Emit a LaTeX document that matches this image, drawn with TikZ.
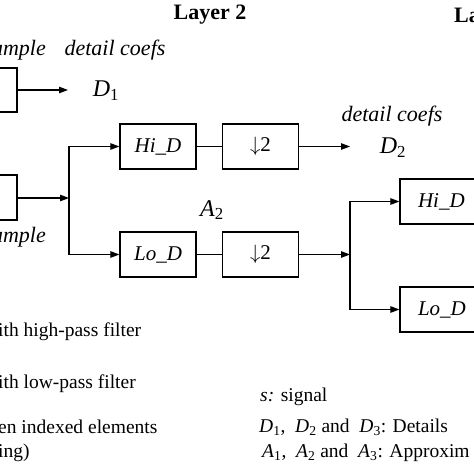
\documentclass[tikz,border=0pt]{standalone}
\usepackage{fontspec}
\setmainfont{Liberation Serif}
\usetikzlibrary{arrows.meta}

\newcommand{\detD}[1]{\textit{D}\textsubscript{#1}}
\newcommand{\apxA}[1]{\textit{A}\textsubscript{#1}}

\begin{document}
\begin{tikzpicture}[
    x=1pt, y=-1pt,
    >={Triangle[length=9pt,width=6.5pt]},
    arr/.style={->, line width=1.1pt},
    ln/.style={line width=1.1pt},
    fbox/.style={draw, line width=1.2pt, minimum width=76pt, minimum height=45pt,
        inner sep=0pt, font=\fontsize{21}{24}\selectfont\itshape},
    coef/.style={font=\fontsize{22}{26}\selectfont\itshape, inner sep=0pt},
    sig/.style={font=\fontsize{24}{28}\selectfont, inner sep=0pt},
    legend/.style={font=\fontsize{19.5}{23}\selectfont, inner sep=0pt, anchor=west},
    layer/.style={font=\fontsize{22}{26}\selectfont\bfseries, inner sep=0pt}
]
\clip (0,0) rectangle (474,474);

%------------------------------------------------
% Titles
%------------------------------------------------
\node[layer] (lay2) at (210,15) {Layer 2};
\node[layer, anchor=west] (lay3) at (454,15) {La};

%------------------------------------------------
% Layer 1 (cut at the left border)
%------------------------------------------------
\node[fbox, minimum width=74pt, minimum height=44pt] (ds1) at (-20,90) {};
\node[fbox, minimum width=74pt] (ds2) at (-20,197.5) {};
\node[coef, anchor=east] (amp1) at (46,50) {ample};
\node[coef, anchor=east] (amp2) at (46,237) {ample};

\node[coef] (coef1) at (115,50) {detail coefs};
\node[sig] (d1) at (106,91) {\detD{1}};
\coordinate (d1end) at (68,90);
\draw[arr] (ds1.east |- d1end) -- (d1end);

\coordinate (j1) at (69,198);
\draw[arr] (ds2.east |- j1) -- (j1);

%------------------------------------------------
% Layer 2
%------------------------------------------------
\node[fbox] (hi2)  at (158,146.5) {Hi\_D};
\node[fbox, font=\fontsize{21}{24}\selectfont] (dnh2) at (260.5,146.5) {$\downarrow$2};
\node[fbox] (lo2)  at (158,254.5) {Lo\_D};
\node[fbox, font=\fontsize{21}{24}\selectfont] (dnl2) at (260.5,254.5) {$\downarrow$2};

\draw[arr] (j1) |- (hi2);
\draw[arr] (j1) |- (lo2);
\draw[ln] (hi2) -- (dnh2);
\draw[ln] (lo2) -- (dnl2);

\node[coef] (coef2) at (392,116) {detail coefs};
\node[sig] (d2) at (393,148) {\detD{2}};
\coordinate (d2end) at (350,146.5);
\draw[arr] (dnh2) -- (d2end);

\node[sig] (a2) at (212,210) {\apxA{2}};

\coordinate (j2) at (350,254.5);
\draw[arr] (dnl2) -- (j2);

%------------------------------------------------
% Layer 3 (cut at the right border)
%------------------------------------------------
\node[fbox, minimum width=84pt, text width=76pt, align=left, inner xsep=4pt] (hi3) at (442,201.5) {\hspace{14pt}Hi\_D};
\node[fbox, minimum width=84pt, text width=76pt, align=left, inner xsep=4pt] (lo3) at (442,309.5) {\hspace{14pt}Lo\_D};

\draw[arr] (j2) |- (hi3);
\draw[arr] (j2) |- (lo3);

%------------------------------------------------
% Legend
%------------------------------------------------
\node[legend] (lg1) at (-2,332) {ith high-pass filter};
\node[legend] (lg2) at (-2,384) {ith low-pass filter};
\node[legend] (lg3) at (-2,427) {en indexed elements};
\node[legend] (lg4) at (-2,453) {ing)};

\node[legend] (lg5) at (260,397) {\textit{s:} signal};
\node[legend] (lg6) at (259,427) {\detD{1},\ \ \detD{2} and\ \ \detD{3}: Details};
\node[legend] (lg7) at (262,453) {\apxA{1},\ \ \apxA{2} and\ \ \apxA{3}: Approxim};

\end{tikzpicture}
\end{document}
